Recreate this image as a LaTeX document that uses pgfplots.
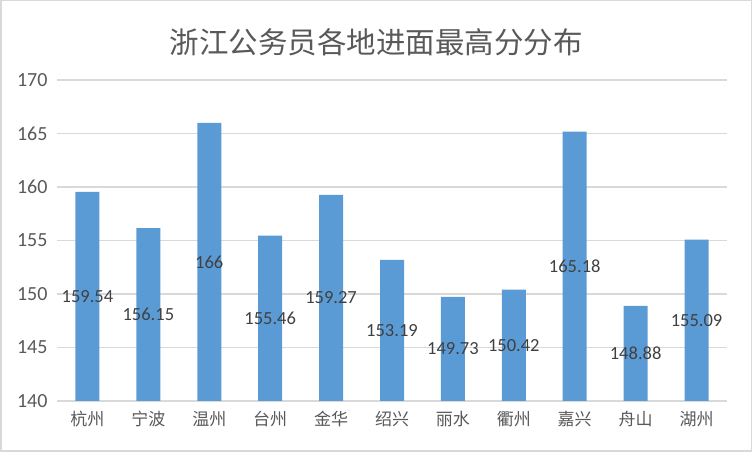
\documentclass[border=0pt]{standalone}
\usepackage{pgfplots}
\pgfplotsset{compat=1.18}
\usepackage{fontspec}
\setmainfont{Carlito}
\newfontfamily\cjk{Noto Sans CJK SC}
\definecolor{barblue}{HTML}{5B9BD5}
\definecolor{gridgray}{HTML}{D9D9D9}
\definecolor{txtgray}{HTML}{595959}
\definecolor{lblgray}{HTML}{404040}
\begin{document}
\begin{tikzpicture}
\path[use as bounding box, draw=gridgray, line width=1.5pt] (0.75pt,0.75pt) rectangle (751.25pt,451.25pt);
\begin{axis}[
  at={(57pt,51pt)}, anchor=south west,
  scale only axis, width=670pt, height=321pt,
  xmin=-0.5, xmax=10.5, ymin=140, ymax=170,
  ytick={140,145,...,170},
  xtick={0,...,10},
  xticklabels={杭州,宁波,温州,台州,金华,绍兴,丽水,衢州,嘉兴,舟山,湖州},
  x tick label style={font=\cjk\fontsize{17}{19}\selectfont, text=txtgray, yshift=-7pt},
  y tick label style={font=\fontsize{20}{22}\selectfont, text=txtgray, anchor=east, xshift=-6pt},
  /pgf/number format/assume math mode=true,
  ymajorgrids, grid style={gridgray, line width=1.3pt},
  axis line style={draw=none},
  major tick style={draw=none},
  clip=false,
  title={\cjk\fontsize{29.5}{32}\selectfont 浙江公务员各地进面最高分分布},
  title style={text=txtgray, at={(0.5,1)}, yshift=14pt, xshift=-16pt},
]
\addplot[ybar, bar width=24pt, fill=barblue, draw=none, bar shift=0pt]
  coordinates {(0,159.54) (1,156.15) (2,166) (3,155.46) (4,159.27) (5,153.19) (6,149.73) (7,150.42) (8,165.18) (9,148.88) (10,155.09)};
\addplot[draw=none, mark=none, nodes near coords, point meta=explicit symbolic,
  every node near coord/.append style={anchor=center, font=\fontsize{18.5}{20}\selectfont, text=lblgray}]
  table[x=x, y expr=(\thisrow{v}+140)/2, meta=t] {
x v t
0 159.54 159.54
1 156.15 156.15
2 166 166
3 155.46 155.46
4 159.27 159.27
5 153.19 153.19
6 149.73 149.73
7 150.42 150.42
8 165.18 165.18
9 148.88 148.88
10 155.09 155.09
};
\end{axis}
\end{tikzpicture}
\end{document}
